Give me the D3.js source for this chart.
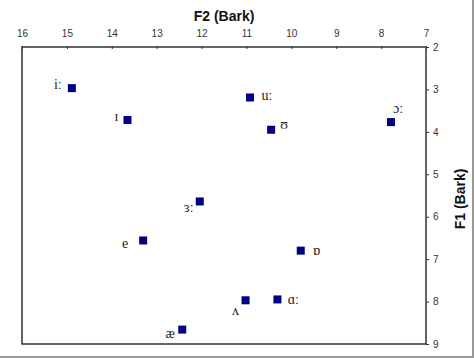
<!DOCTYPE html>
<html>
<head>
<meta charset="utf-8">
<script src="https://cdn.jsdelivr.net/npm/d3@7"></script>
<style>
  html, body { margin: 0; padding: 0; background: #fff; }
  svg { display: block; }
</style>
</head>
<body>
<svg id="chart" width="474" height="358"></svg>
<script>
// Data
const vowels = ["iː", "ɪ", "uː", "ʊ", "ɔː", "ɜː", "e", "æ", "ʌ", "ɑː", "ɒ"];
const f2Values = [14.89, 13.65, 10.92, 10.45, 7.78, 12.04, 13.30, 12.43, 11.02, 10.31, 9.79];
const f1Values = [2.97, 3.72, 3.19, 3.95, 3.77, 5.64, 6.56, 8.66, 7.97, 7.95, 6.80];
// label offsets (dx, dy) relative to the marker, in px
const labelDx = [-14, -11, 17, 13, 7, -11, -18, -12, -10, 16, 16];
const labelDy = [-4, -3, -2, -5, -14, 6, 3, 4, 10, 0, 0];
const f2Ticks = [16, 15, 14, 13, 12, 11, 10, 9, 8, 7];
const f1Ticks = [2, 3, 4, 5, 6, 7, 8, 9];

const svg = d3.select("#chart");
const pLeft = 22, pRight = 426, pTop = 47, pBottom = 344;

const x = d3.scaleLinear().domain([16, 7]).range([pLeft, pRight]);
const y = d3.scaleLinear().domain([2, 9]).range([pTop, pBottom]);

// outer shadow strips
svg.append("rect").attr("x", 472).attr("y", 0).attr("width", 2).attr("height", 358).attr("fill", "#9a9a9a");
svg.append("rect").attr("x", 0).attr("y", 356).attr("width", 474).attr("height", 2).attr("fill", "#9a9a9a");

// plot frame
svg.append("rect")
  .attr("x", pLeft).attr("y", pTop)
  .attr("width", pRight - pLeft).attr("height", pBottom - pTop)
  .attr("fill", "none").attr("stroke", "#333").attr("stroke-width", 1.5);

// top axis
const xAxis = svg.append("g")
  .attr("transform", `translate(0,${pTop})`)
  .call(d3.axisTop(x).tickValues(f2Ticks).tickSize(-3).tickPadding(10).tickFormat(d3.format("d")));
xAxis.select(".domain").remove();
xAxis.selectAll(".tick line").attr("stroke", "#333").attr("transform", "translate(0,-1)");
xAxis.selectAll("text").attr("font-family", "Arial, Liberation Sans, sans-serif").attr("font-size", 10).attr("fill", "#333");

// right axis
const yAxis = svg.append("g")
  .attr("transform", `translate(${pRight},0)`)
  .call(d3.axisRight(y).tickValues(f1Ticks).tickSize(3).tickPadding(4).tickFormat(d3.format("d")));
yAxis.select(".domain").remove();
yAxis.selectAll(".tick line").attr("stroke", "#333");
yAxis.selectAll("text").attr("font-family", "Arial, Liberation Sans, sans-serif").attr("font-size", 10).attr("fill", "#333");

// axis titles
svg.append("text")
  .attr("x", 224).attr("y", 21)
  .attr("text-anchor", "middle")
  .attr("font-family", "Arial, Liberation Sans, sans-serif")
  .attr("font-weight", "bold").attr("font-size", 14).attr("fill", "#111")
  .text("F2 (Bark)");
svg.append("text")
  .attr("transform", "translate(465,199) rotate(-90)")
  .attr("text-anchor", "middle")
  .attr("font-family", "Arial, Liberation Sans, sans-serif")
  .attr("font-weight", "bold").attr("font-size", 14).attr("fill", "#111")
  .text("F1 (Bark)");

// points
const data = vowels.map((v, i) => ({ v, f2: f2Values[i], f1: f1Values[i], dx: labelDx[i], dy: labelDy[i] }));
const s = 8;
svg.append("g").selectAll("rect")
  .data(data).join("rect")
  .attr("x", d => x(d.f2) - s / 2)
  .attr("y", d => y(d.f1) - s / 2)
  .attr("width", s).attr("height", s)
  .attr("fill", "#000080");

svg.append("g").selectAll("text")
  .data(data).join("text")
  .attr("x", d => x(d.f2) + d.dx)
  .attr("y", d => y(d.f1) + d.dy)
  .attr("text-anchor", "middle")
  .attr("dominant-baseline", "central")
  .attr("font-family", "'Liberation Serif', 'DejaVu Serif', serif")
  .attr("font-size", 14).attr("fill", "#222")
  .text(d => d.v);
</script>
</body>
</html>
